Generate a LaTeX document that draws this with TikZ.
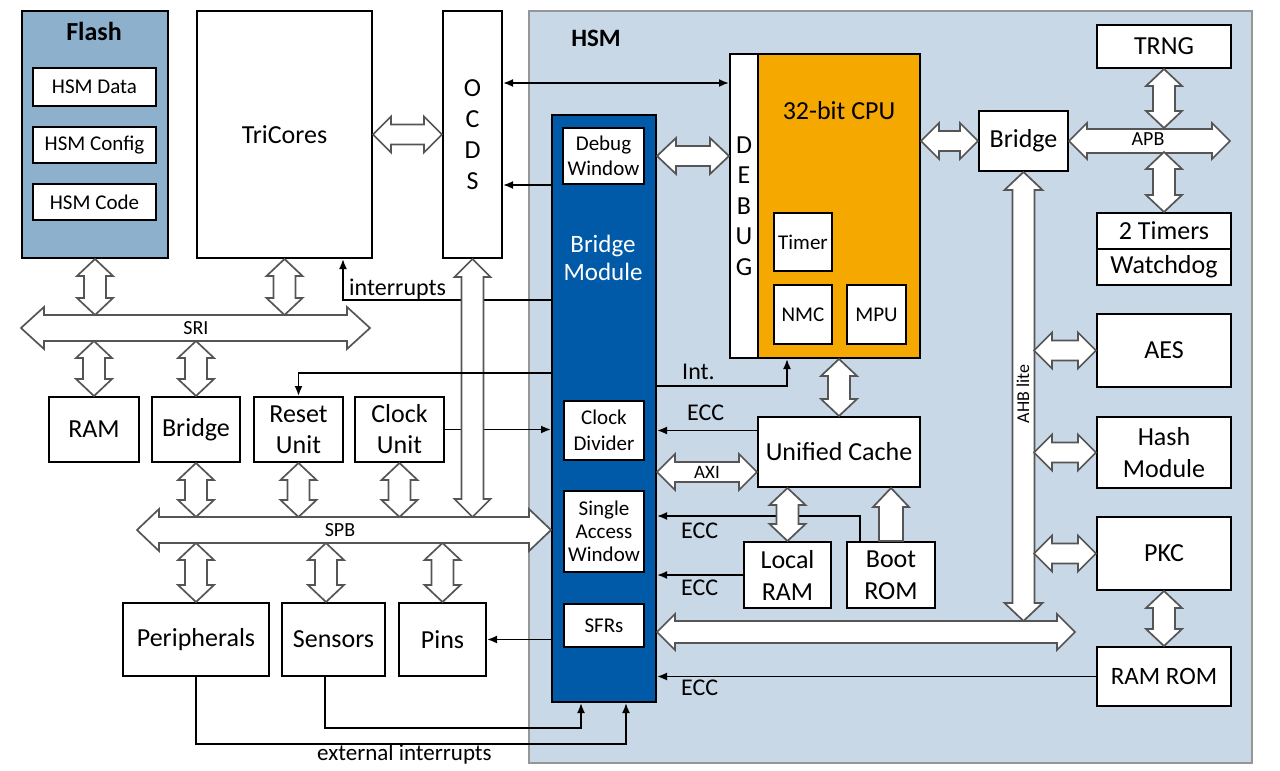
\documentclass[tikz,border=0pt]{standalone}
\usepackage{fontspec}
\setmainfont{Carlito}
\usetikzlibrary{arrows.meta,calc}
\definecolor{hsmbg}{RGB}{200,216,230}
\definecolor{hsmedge}{RGB}{150,150,150}
\definecolor{flashbg}{RGB}{141,176,205}
\definecolor{bmodbg}{RGB}{0,90,168}
\definecolor{cpubg}{RGB}{245,168,0}
\definecolor{fatedge}{RGB}{85,85,85}
\newcommand\fzMain{\fontsize{26}{31}\selectfont}
\newcommand\fzEcc{\fontsize{24}{28}\selectfont}
\newcommand\fzSmall{\fontsize{21}{25}\selectfont}
\newcommand\fzBus{\fontsize{20}{24}\selectfont}
% vertical double hollow arrow: #1 top point, #2 bottom point, #3 shaft half, #4 head half, #5 head length
\newcommand\fatVx[5]{\draw[fat] let \p1=#1, \p2=#2 in
 (\x1,\y1) -- (\x1+#4,\y1-#5) -- (\x1+#3,\y1-#5) -- (\x1+#3,\y2+#5) -- (\x1+#4,\y2+#5) -- (\x1,\y2)
 -- (\x1-#4,\y2+#5) -- (\x1-#3,\y2+#5) -- (\x1-#3,\y1-#5) -- (\x1-#4,\y1-#5) -- cycle;}
\newcommand\fatV[2]{\fatVx{#1}{#2}{11pt}{18pt}{17pt}}
% horizontal double hollow arrow: #1 left point, #2 right point
\newcommand\fatHx[5]{\draw[fat] let \p1=#1, \p2=#2 in
 (\x1,\y1) -- (\x1+#5,\y1+#4) -- (\x1+#5,\y1+#3) -- (\x2-#5,\y1+#3) -- (\x2-#5,\y1+#4) -- (\x2,\y1)
 -- (\x2-#5,\y1-#4) -- (\x2-#5,\y1-#3) -- (\x1+#5,\y1-#3) -- (\x1+#5,\y1-#4) -- cycle;}
\newcommand\fatH[2]{\fatHx{#1}{#2}{10pt}{18pt}{18pt}}
% single upward hollow arrow: #1 tip (top), #2 base (bottom)
\newcommand\fatUp[5]{\draw[fat] let \p1=#1, \p2=#2 in
 (\x1,\y1) -- (\x1+#4,\y1-#5) -- (\x1+#3,\y1-#5) -- (\x1+#3,\y2) -- (\x1-#3,\y2) -- (\x1-#3,\y1-#5) -- (\x1-#4,\y1-#5) -- cycle;}
\tikzset{
  wh/.style 2 args={minimum width=#1pt, minimum height=#2pt},
  box/.style={draw=black, line width=2pt, fill=white, inner sep=0pt, align=center, anchor=north west, font=\fzMain},
  sig/.style={draw=black, line width=1.8pt},
  fat/.style={draw=fatedge, line width=1.7pt, fill=white, line join=miter},
  tip/.style={-{Latex[length=10pt,width=8pt]}},
  tips/.style={{Latex[length=10pt,width=8pt]}-{Latex[length=10pt,width=8pt]}},
  lbl/.style={inner sep=0pt, font=\fzEcc},
  buslbl/.style={inner sep=0pt, font=\fzBus},
}
\begin{document}
\begin{tikzpicture}[x=1pt,y=-1pt]
\useasboundingbox (0,0) rectangle (1280,771);
\fill[white] (0,0) rectangle (1280,771);

% HSM area
\node[draw=hsmedge, fill=hsmbg, line width=1.8pt, anchor=north west, inner sep=0pt, wh={723}{752}] (hsm) at (528,10) {};
\node[inner sep=0pt, font=\bfseries\fontsize{25}{30}\selectfont] (hsmlbl) at (596,38) {HSM};

% Flash
\node[box, fill=flashbg, wh={146}{247}] (flash) at (21,10) {};
\node[inner sep=0pt, font=\bfseries\fontsize{26}{30}\selectfont] (flashlbl) at (94,31) {Flash};
\node[box, font=\fzSmall, wh={123}{38}] (hsmdata) at (32,67) {HSM Data};
\node[box, font=\fzSmall, wh={123}{36}] (hsmconf) at (32,126) {HSM Config};
\node[box, font=\fzSmall, wh={123}{36}] (hsmcode) at (32,183) {HSM Code};

% TriCores, OCDS
\node[box, wh={175}{247}] (tricores) at (196,10) {TriCores};
\node[box, wh={59}{247}] (ocds) at (442,10) {O\\C\\D\\S};

% left lower boxes
\node[box, wh={90}{65}] (ram) at (48,396) {RAM};
\node[box, wh={88}{65}] (bridge) at (151,396) {Bridge};
\node[box, wh={89}{65}, font=\fontsize{26}{31}\selectfont] (reset) at (253,396) {Reset\\Unit};
\node[box, wh={89}{65}, font=\fontsize{26}{31}\selectfont] (clocku) at (354,396) {Clock\\Unit};
\node[box, wh={146}{73}] (periph) at (122,602) {Peripherals};
\node[box, wh={103}{73}] (sensors) at (281,602) {Sensors};
\node[box, wh={87}{73}] (pins) at (398,602) {Pins};

% Bridge module
\node[box, fill=bmodbg, wh={104}{587}] (bmod) at (551,114) {};
\node[inner sep=0pt, align=center, text=white, font=\fontsize{25}{28}\selectfont] (bmodlbl) at (603,258) {Bridge\\Module};
\node[box, font=\fontsize{21}{25}\selectfont, wh={81}{56}] (dwin) at (562,127) {Debug\\Window};
\node[box, font=\fontsize{21}{26}\selectfont, wh={80}{59}] (cdiv) at (563,400) {Clock\\Divider};
\node[box, font=\fontsize{21}{23}\selectfont, wh={80}{81}] (saw) at (563,490) {Single\\Access\\Window};
\node[box, font=\fzSmall, wh={80}{43}] (sfrs) at (563,603) {SFRs};

% CPU
\node[box, wh={28}{304}, font=\fontsize{26}{30.5}\selectfont] (dbg) at (729,53) {D\\E\\B\\U\\G};
\node[box, fill=cpubg, wh={162}{304}] (cpu) at (757,53) {};
\node[inner sep=0pt, font=\fzMain] (cpulbl) at (839,111) {32-bit CPU};
\node[box, font=\fzSmall, wh={58}{58}] (timer) at (773,212) {Timer};
\node[box, font=\fzSmall, wh={58}{59}] (nmc) at (773,284) {NMC};
\node[box, font=\fzSmall, wh={59}{59}] (mpu) at (846,284) {MPU};

% cache and memories
\node[box, wh={162}{70}] (cache) at (757,416) {Unified Cache};
\node[box, wh={87}{66}, font=\fontsize{26}{32}\selectfont] (lram) at (743,541) {Local\\RAM};
\node[box, wh={88}{66}, font=\fontsize{26}{32}\selectfont] (brom) at (846,541) {Boot\\ROM};

% right column
\node[box, wh={89}{60}] (hbridge) at (978,110) {Bridge};
\node[box, wh={134}{43}] (trng) at (1096,24) {TRNG};
\node[box, wh={134}{36}] (tim2) at (1096,212) {2 Timers};
\node[box, wh={134}{36}] (wdog) at (1096,248) {Watchdog};
\node[box, wh={134}{73}] (aes) at (1096,313) {AES};
\node[box, wh={134}{71}, font=\fontsize{26}{32}\selectfont] (hash) at (1096,416) {Hash\\Module};
\node[box, wh={134}{73}] (pkc) at (1096,516) {PKC};
\node[box, wh={134}{59}, font=\fontsize{25}{30}\selectfont] (ramrom) at (1096,646) {RAM ROM};

% helper coordinates
\coordinate (sriL) at (21,328);
\coordinate (sriR) at (370,328);
\coordinate (sriT) at (0,315);
\coordinate (sriB) at (0,341);
\coordinate (spbL) at (137,530);
\coordinate (spbT) at (0,517);
\coordinate (spbB) at (0,543);
\coordinate (sensx) at (326,0);
\coordinate (apbR) at (1230,140);
\coordinate (apbT) at (0,128);
\coordinate (apbB) at (0,152);
\coordinate (ahbR) at (1034,0);
\coordinate (busY) at (0,632);
\coordinate (sfrR) at (1075,632);
\coordinate (sfrTop) at (0,621);
\coordinate (axiY) at (0,472);
\coordinate (l83) at (0,83);
\coordinate (intY) at (0,300);
\coordinate (rstY) at (0,373);
\coordinate (intc) at (787,386);
\coordinate (becc) at (860,516);
\coordinate (ex1) at (581,728);
\coordinate (ex2) at (626,744);
\coordinate (sensl) at (325,0);

% signal lines drawn below the hollow arrows
\draw[sig, tip] (bmod.west |- intY) -| ([xshift=-30pt]tricores.south east);
\draw[sig, tip] (clocku.east) -- (clocku.east -| bmod.west);
\draw[sig, tip] (brom.north -| becc) |- (becc -| bmod.east);

% hollow arrows
\fatV{(flash.south)}{(flash.south |- sriT)}
\fatV{(tricores.south)}{(tricores.south |- sriT)}
\fatHx{(sriL)}{(sriR)}{13pt}{21pt}{23pt}
\fatV{(ram.north |- sriB)}{(ram.north)}
\fatV{(bridge.north |- sriB)}{(bridge.north)}
\fatH{(tricores.east)}{(tricores.east -| ocds.west)}
\fatVx{(ocds.south)}{(ocds.south |- spbT)}{11pt}{18pt}{18pt}
\fatHx{(spbL)}{(spbL -| bmod.west)}{13pt}{21pt}{22pt}
\fatV{(bridge.south)}{(bridge.south |- spbT)}
\fatV{(reset.south)}{(reset.south |- spbT)}
\fatV{(clocku.south)}{(clocku.south |- spbT)}
\fatV{(periph.north |- spbB)}{(periph.north)}
\fatV{(sensx |- spbB)}{(sensx |- sensors.north)}
\fatV{(pins.north |- spbB)}{(pins.north)}
\fatHx{(dwin.east -| bmod.east)}{(dwin.east -| dbg.west)}{10pt}{18pt}{19pt}
\fatH{(hbridge.west -| cpu.east)}{(hbridge.west)}
\fatHx{(hbridge.east)}{(apbR)}{12pt}{18pt}{18pt}
\fatV{(trng.south)}{(trng.south |- apbT)}
\fatV{(tim2.north |- apbB)}{(tim2.north)}
\fatHx{(bmod.east |- busY)}{(sfrR)}{11pt}{18pt}{18pt}
\fatVx{(hbridge.south)}{(hbridge.south |- sfrTop)}{11pt}{19pt}{18pt}
\fatH{(aes.west -| ahbR)}{(aes.west)}
\fatH{(hash.west -| ahbR)}{(hash.west)}
\fatH{(pkc.west -| ahbR)}{(pkc.west)}
\fatV{(pkc.south)}{(ramrom.north)}
\fatV{(cache.north |- cpu.south)}{(cache.north)}
\fatH{(bmod.east |- axiY)}{(cache.west |- axiY)}
\fatV{(lram.north |- cache.south)}{(lram.north)}
\fatUp{(brom.north |- cache.south)}{(brom.north)}{12pt}{18pt}{19pt}

% signal lines on top
\draw[sig, tips] (ocds.east |- l83) -- (dbg.west |- l83);
\draw[sig, tip] (dwin.south -| bmod.west) -- (dwin.south -| ocds.east);
\draw[sig, tip] (bmod.west |- rstY) -| (reset.north);
\draw[sig, tip] (bmod.east |- intc) -| (intc |- cpu.south);
\draw[sig, tip] (cdiv.east -| cache.west) -- (cdiv.east -| bmod.east);
\draw[sig, tip] (lram.west) -- (lram.west -| bmod.east);
\draw[sig, tip] (ramrom.west) -- (ramrom.west -| bmod.east);
\draw[sig, tip] (pins.east -| bmod.west) -- (pins.east);
\draw[sig, tip] (sensors.south -| sensl) |- (ex1) -- (ex1 |- bmod.south);
\draw[sig, tip] (periph.south) |- (ex2) -- (ex2 |- bmod.south);

% labels
\node[lbl, anchor=base west] (lint) at (349,295) {interrupts};
\node[lbl, anchor=base west] (lintc) at (682,379) {Int.};
\node[lbl, anchor=base west] (lecc1) at (687,420) {ECC};
\node[lbl, anchor=base west] (lecc2) at (681,538) {ECC};
\node[lbl, anchor=base west] (lecc3) at (681,595) {ECC};
\node[lbl, anchor=base west] (lecc4) at (681,695) {ECC};
\node[lbl, anchor=base west, font=\fontsize{23}{27}\selectfont] (lext) at (317,760) {external interrupts};
\node[buslbl] (lsri) at (196,328) {SRI};
\node[buslbl] (lspb) at (340,530) {SPB};
\node[buslbl] (lapb) at (1148,139) {APB};
\node[buslbl, font=\fontsize{19}{22}\selectfont] (laxi) at (707,472) {AXI};
\node[buslbl, font=\fontsize{18}{22}\selectfont, rotate=90] (lahb) at (1023,394) {AHB lite};
\end{tikzpicture}
\end{document}
